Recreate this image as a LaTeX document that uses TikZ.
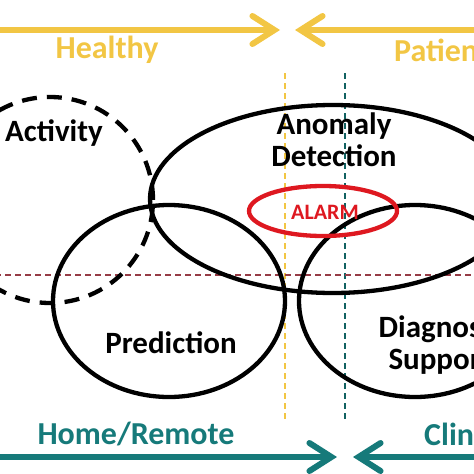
\documentclass[tikz,border=0pt]{standalone}
\usepackage{fontspec}
\setmainfont{Carlito}
\usetikzlibrary{positioning,arrows.meta,shapes.geometric}
\definecolor{sunyellow}{RGB}{242,198,68}
\definecolor{deepteal}{RGB}{22,122,122}
\definecolor{alarmred}{RGB}{222,24,32}
\definecolor{guidered}{RGB}{150,60,70}
\tikzset{
  region/.style={ellipse,draw=black,line width=4.3pt,inner sep=0pt},
  regionlabel/.style={font=\fontsize{31}{32}\selectfont\bfseries,align=center,inner sep=0pt},
  sidelabel/.style={font=\fontsize{32}{34}\selectfont\bfseries,inner sep=0pt},
  sidearrow/.style={line width=6pt,-{Straight Barb[length=22pt,width=28pt,line cap=round]}},
  guide/.style={line width=1.2pt,dash pattern=on 6pt off 4pt}
}
\begin{document}
\begin{tikzpicture}[x=1pt,y=-1pt]
\useasboundingbox (0,0) rectangle (474,474);
\clip (0,0) rectangle (474,474);
% guide lines
\coordinate (ytop) at (285,73);
\coordinate (ybot) at (285,422);
\coordinate (ttop) at (345,73);
\coordinate (tbot) at (345,422);
\coordinate (rleft) at (-5,275);
\coordinate (rright) at (480,275);
\draw[guide,sunyellow] (ytop) -- (ybot);
\draw[guide,deepteal!80!black] (ttop) -- (tbot);
\draw[guide,guidered] (rleft) -- (rright);
% regions
\node[region,dash pattern=on 15pt off 10pt,minimum width=206pt,minimum height=206pt] (activity) at (50,200) {};
\node[region,minimum width=366pt,minimum height=188pt] (anomaly) at (333,199) {};
\node[region,minimum width=232pt,minimum height=192pt] (prediction) at (169,301) {};
\node[region,minimum width=232pt,minimum height=192pt] (diagnosis) at (415,301) {};
\node[region,draw=alarmred,minimum width=148pt,minimum height=50pt] (alarm) at (323,211) {};
% labels
\node[regionlabel] (activitytxt) at (54,133) {Activity};
\node[regionlabel] (anomalytxt) at (334,140) {Anomaly\\Detection};
\node[regionlabel] (predictiontxt) at (171,343) {Prediction};
\node[regionlabel] (diagnosistxt) at (440,345) {Diagnosis\\Support};
\node[font=\fontsize{22}{24}\selectfont\bfseries,text=alarmred,inner sep=0pt] (alarmtxt) at (325,212) {ALARM};
% healthy / patient
\coordinate (hstart) at (-5,30);
\coordinate (htip) at (280,30);
\coordinate (pstart) at (480,30);
\coordinate (ptip) at (295,30);
\draw[sidearrow,sunyellow] (hstart) -- (htip);
\draw[sidearrow,sunyellow] (pstart) -- (ptip);
\node[sidelabel,text=sunyellow] (healthy) at (107,50) {Healthy};
\node[sidelabel,text=sunyellow,anchor=west] (patient) at (394,50) {Patient};
% home / clinic
\coordinate (mstart) at (-5,457);
\coordinate (mtip) at (337,457);
\coordinate (cstart) at (480,457);
\coordinate (ctip) at (353,457);
\draw[sidearrow,deepteal] (mstart) -- (mtip);
\draw[sidearrow,deepteal] (cstart) -- (ctip);
\node[sidelabel,text=deepteal] (home) at (136,434) {Home/Remote};
\node[sidelabel,text=deepteal,anchor=west] (clinic) at (424,434) {Clinic};
\end{tikzpicture}
\end{document}
